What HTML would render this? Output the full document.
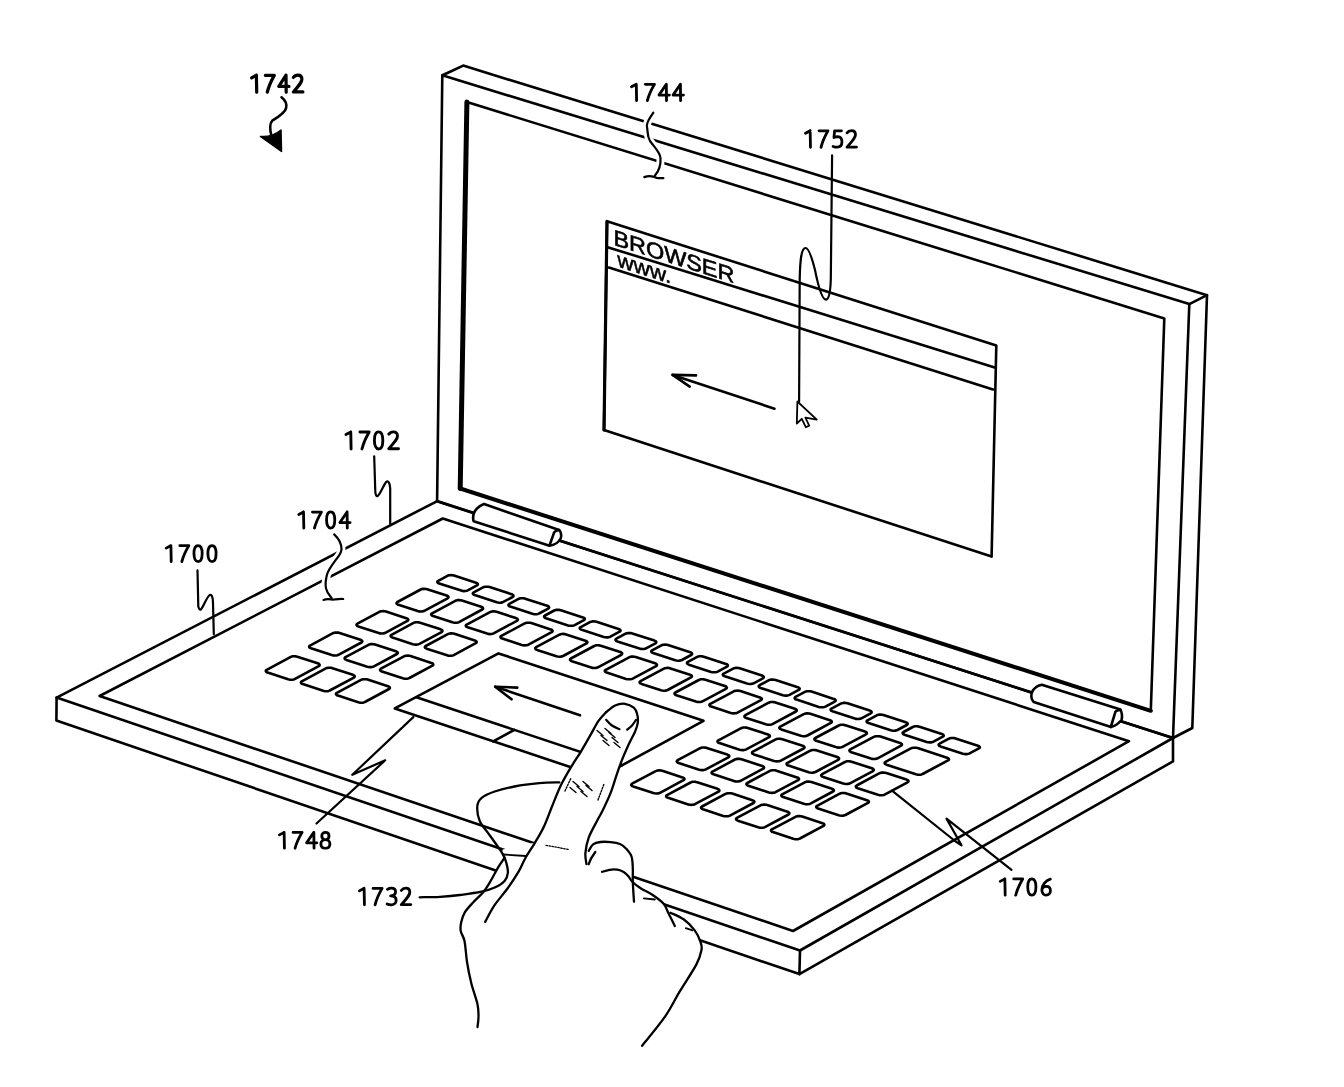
<!DOCTYPE html>
<html><head><meta charset="utf-8"><style>
html,body{margin:0;padding:0;background:#fff;}
body{width:1344px;height:1087px;overflow:hidden;}
svg{display:block;filter:grayscale(1);}
.t{font-family:"Liberation Sans",sans-serif;fill:#000;}
</style></head><body>
<svg width="1344" height="1087" viewBox="0 0 1344 1087">
<g fill="none" stroke="#000" stroke-linejoin="round" stroke-linecap="round">
<polyline points="436.8,501.3 56.6,697.6 800,950.5 1173,738" stroke-width="2.6" />
<polyline points="56.6,697.6 56.4,720.6 799.4,974.1 800,950.5" stroke-width="2.6" />
<polyline points="799.4,974.1 1173,761.4 1173,738" stroke-width="2.6" />
<polygon points="99.6,696 793,931 1129,741.2 442.8,518.5" stroke-width="2.6" fill="none" />
<polyline points="436.8,501.3 1173,738" stroke-width="2.6" />
<polygon points="461.2,590.6 462.5,591 463.9,591.1 465.4,591 466.7,590.8 467.7,590.4 477,585.4 477.7,584.9 477.9,584.3 477.7,583.7 477,583.1 476,582.7 454,575.5 452.7,575.2 451.2,575.1 449.8,575.2 448.4,575.4 447.4,575.8 438.2,580.8 437.5,581.3 437.3,581.9 437.5,582.5 438.1,583 439.2,583.5" stroke-width="2.6" fill="none" />
<polygon points="496.8,602.2 498.1,602.5 499.5,602.7 501,602.6 502.3,602.4 503.3,601.9 512.6,597 513.3,596.5 513.5,595.9 513.3,595.3 512.6,594.7 511.6,594.2 489.6,587.1 488.2,586.8 486.8,586.7 485.3,586.7 484,587 483,587.4 473.7,592.3 473.1,592.9 472.8,593.4 473,594 473.7,594.6 474.7,595.1" stroke-width="2.6" fill="none" />
<polygon points="532.4,613.8 533.7,614.1 535.2,614.2 536.6,614.2 537.9,613.9 539,613.5 548.2,608.6 548.9,608 549.1,607.4 548.9,606.8 548.3,606.3 547.2,605.8 525.2,598.7 523.9,598.3 522.4,598.2 520.9,598.3 519.6,598.5 518.6,598.9 509.3,603.9 508.7,604.4 508.4,605 508.6,605.6 509.3,606.2 510.3,606.6" stroke-width="2.6" fill="none" />
<polygon points="568.1,625.4 569.4,625.7 570.8,625.8 572.3,625.8 573.6,625.5 574.7,625.1 583.9,620.1 584.6,619.6 584.8,619 584.6,618.4 583.9,617.9 582.9,617.4 560.8,610.2 559.5,609.9 558.1,609.8 556.6,609.9 555.3,610.1 554.2,610.5 545,615.5 544.3,616 544.1,616.6 544.3,617.2 545,617.8 546,618.2" stroke-width="2.6" fill="none" />
<polygon points="603.8,637 605.1,637.3 606.5,637.4 608,637.4 609.3,637.1 610.4,636.7 619.6,631.7 620.3,631.2 620.6,630.6 620.3,630 619.7,629.5 618.6,629 596.5,621.8 595.2,621.5 593.8,621.4 592.3,621.4 591,621.7 589.9,622.1 580.7,627.1 580,627.6 579.7,628.2 580,628.8 580.6,629.4 581.7,629.8" stroke-width="2.6" fill="none" />
<polygon points="639.5,648.6 640.8,648.9 642.3,649 643.7,649 645.1,648.7 646.1,648.3 655.4,643.4 656.1,642.8 656.3,642.2 656.1,641.6 655.4,641.1 654.4,640.6 632.3,633.4 630.9,633.1 629.5,633 628,633.1 626.7,633.3 625.6,633.7 616.4,638.7 615.7,639.2 615.5,639.8 615.7,640.4 616.3,641 617.4,641.4" stroke-width="2.6" fill="none" />
<polygon points="675.3,660.2 676.6,660.5 678.1,660.7 679.5,660.6 680.9,660.4 681.9,660 691.2,655 691.9,654.5 692.1,653.9 691.9,653.3 691.2,652.7 690.2,652.2 668,645.1 666.7,644.7 665.2,644.6 663.8,644.7 662.5,644.9 661.4,645.3 652.1,650.3 651.5,650.8 651.2,651.4 651.4,652 652.1,652.6 653.1,653" stroke-width="2.6" fill="none" />
<polygon points="711.1,671.9 712.4,672.2 713.9,672.3 715.4,672.3 716.7,672 717.7,671.6 727,666.6 727.7,666.1 727.9,665.5 727.7,664.9 727,664.3 726,663.9 703.8,656.7 702.5,656.4 701.1,656.2 699.6,656.3 698.3,656.5 697.2,656.9 687.9,661.9 687.2,662.4 687,663 687.2,663.6 687.9,664.2 688.9,664.7" stroke-width="2.6" fill="none" />
<polygon points="747,683.5 748.3,683.8 749.7,684 751.2,683.9 752.5,683.7 753.6,683.3 762.9,678.3 763.6,677.8 763.8,677.2 763.6,676.5 762.9,676 761.9,675.5 739.7,668.3 738.4,668 736.9,667.9 735.4,667.9 734.1,668.2 733.1,668.6 723.8,673.6 723.1,674.1 722.8,674.7 723.1,675.3 723.7,675.9 724.8,676.3" stroke-width="2.6" fill="none" />
<polygon points="782.9,695.2 784.2,695.5 785.6,695.6 787.1,695.6 788.4,695.3 789.5,694.9 798.8,689.9 799.5,689.4 799.7,688.8 799.5,688.2 798.8,687.7 797.8,687.2 775.6,680 774.3,679.7 772.8,679.5 771.3,679.6 770,679.8 768.9,680.2 759.6,685.2 758.9,685.7 758.7,686.3 758.9,686.9 759.6,687.5 760.6,688" stroke-width="2.6" fill="none" />
<polygon points="818.8,706.9 820.1,707.2 821.6,707.3 823.1,707.2 824.4,707 825.4,706.6 834.8,701.6 835.4,701.1 835.7,700.5 835.5,699.9 834.8,699.3 833.7,698.9 811.5,691.6 810.2,691.3 808.7,691.2 807.2,691.3 805.9,691.5 804.9,691.9 795.5,696.9 794.9,697.4 794.6,698 794.8,698.6 795.5,699.2 796.6,699.6" stroke-width="2.6" fill="none" />
<polygon points="854.8,718.5 856.1,718.9 857.6,719 859,718.9 860.4,718.7 861.4,718.3 870.7,713.3 871.4,712.8 871.7,712.2 871.4,711.6 870.8,711 869.7,710.6 847.5,703.3 846.1,703 844.7,702.9 843.2,702.9 841.9,703.2 840.8,703.6 831.5,708.6 830.8,709.1 830.6,709.7 830.8,710.3 831.5,710.9 832.5,711.3" stroke-width="2.6" fill="none" />
<polygon points="890.8,730.3 892.1,730.6 893.6,730.7 895,730.6 896.4,730.4 897.4,730 906.8,725 907.5,724.5 907.7,723.9 907.5,723.3 906.8,722.7 905.7,722.3 883.5,715 882.1,714.7 880.7,714.6 879.2,714.6 877.9,714.9 876.8,715.3 867.5,720.3 866.8,720.8 866.6,721.4 866.8,722 867.4,722.6 868.5,723" stroke-width="2.6" fill="none" />
<polygon points="926.8,742 928.2,742.3 929.6,742.4 931.1,742.4 932.4,742.1 933.5,741.7 942.8,736.7 943.5,736.2 943.8,735.6 943.5,735 942.9,734.4 941.8,734 919.5,726.7 918.2,726.4 916.7,726.3 915.2,726.3 913.9,726.6 912.8,727 903.5,732 902.8,732.5 902.6,733.1 902.8,733.7 903.5,734.3 904.5,734.7" stroke-width="2.6" fill="none" />
<polygon points="962.9,753.7 964.2,754 965.7,754.1 967.2,754.1 968.5,753.8 969.6,753.4 978.9,748.4 979.6,747.9 979.9,747.3 979.6,746.7 979,746.2 977.9,745.7 955.6,738.4 954.3,738.1 952.8,738 951.3,738 950,738.3 948.9,738.7 939.6,743.7 938.9,744.2 938.6,744.8 938.9,745.4 939.5,746 940.6,746.4" stroke-width="2.6" fill="none" />
<polygon points="417.7,611.1 419,611.4 420.5,611.5 422,611.4 423.3,611.2 424.3,610.8 447.6,598.3 448.2,597.8 448.5,597.2 448.3,596.6 447.6,596 446.6,595.5 427.2,589.3 425.9,589 424.5,588.8 423,588.9 421.7,589.1 420.7,589.5 397.4,602 396.8,602.6 396.5,603.2 396.7,603.8 397.4,604.3 398.4,604.8" stroke-width="2.6" fill="none" />
<polygon points="452.4,622.3 453.7,622.6 455.1,622.8 456.6,622.7 457.9,622.5 459,622.1 482.2,609.5 482.9,609 483.1,608.4 482.9,607.8 482.3,607.3 481.2,606.8 461.9,600.5 460.6,600.2 459.1,600.1 457.7,600.1 456.4,600.4 455.3,600.8 432.1,613.3 431.4,613.8 431.1,614.4 431.4,615 432,615.6 433.1,616" stroke-width="2.6" fill="none" />
<polygon points="487.1,633.6 488.4,633.9 489.8,634.1 491.3,634 492.6,633.8 493.6,633.4 516.9,620.8 517.6,620.3 517.9,619.7 517.6,619.1 517,618.6 515.9,618.1 496.6,611.8 495.3,611.5 493.8,611.4 492.4,611.4 491,611.7 490,612.1 466.7,624.6 466,625.1 465.8,625.7 466,626.3 466.7,626.9 467.7,627.3" stroke-width="2.6" fill="none" />
<polygon points="521.8,644.9 523.1,645.2 524.5,645.4 526,645.3 527.3,645.1 528.4,644.7 551.7,632.1 552.4,631.6 552.6,631 552.4,630.4 551.7,629.8 550.7,629.4 531.3,623.1 530,622.8 528.5,622.7 527.1,622.7 525.8,623 524.7,623.4 501.4,635.9 500.7,636.4 500.5,637 500.7,637.6 501.4,638.2 502.4,638.6" stroke-width="2.6" fill="none" />
<polygon points="556.5,656.2 557.8,656.5 559.3,656.7 560.8,656.6 562.1,656.4 563.1,656 586.5,643.4 587.1,642.9 587.4,642.3 587.2,641.7 586.5,641.2 585.4,640.7 566.1,634.4 564.7,634.1 563.3,633.9 561.8,634 560.5,634.3 559.5,634.7 536.1,647.2 535.5,647.7 535.2,648.3 535.4,648.9 536.1,649.5 537.1,649.9" stroke-width="2.6" fill="none" />
<polygon points="591.3,667.5 592.6,667.9 594.1,668 595.5,667.9 596.9,667.7 597.9,667.3 621.3,654.8 622,654.2 622.2,653.6 622,653 621.3,652.5 620.3,652 600.8,645.7 599.5,645.4 598.1,645.3 596.6,645.3 595.3,645.6 594.2,646 570.9,658.5 570.2,659 570,659.6 570.2,660.2 570.9,660.8 571.9,661.2" stroke-width="2.6" fill="none" />
<polygon points="626.1,678.9 627.5,679.2 628.9,679.3 630.4,679.3 631.7,679 632.7,678.6 656.1,666.1 656.8,665.6 657,665 656.8,664.4 656.2,663.8 655.1,663.3 635.7,657 634.4,656.7 632.9,656.6 631.4,656.6 630.1,656.9 629.1,657.3 605.7,669.8 605,670.3 604.8,670.9 605,671.5 605.7,672.1 606.7,672.6" stroke-width="2.6" fill="none" />
<polygon points="661,690.2 662.3,690.5 663.8,690.7 665.2,690.6 666.6,690.4 667.6,690 691,677.4 691.7,676.9 691.9,676.3 691.7,675.7 691,675.1 690,674.7 670.5,668.4 669.2,668 667.8,667.9 666.3,668 665,668.2 663.9,668.6 640.5,681.2 639.9,681.7 639.6,682.3 639.8,682.9 640.5,683.4 641.6,683.9" stroke-width="2.6" fill="none" />
<polygon points="695.9,701.6 697.2,701.9 698.7,702 700.1,702 701.5,701.7 702.5,701.3 725.9,688.8 726.6,688.3 726.9,687.7 726.6,687.1 726,686.5 724.9,686 705.4,679.7 704.1,679.4 702.7,679.3 701.2,679.3 699.9,679.6 698.8,680 675.4,692.5 674.7,693 674.5,693.6 674.7,694.2 675.4,694.8 676.4,695.3" stroke-width="2.6" fill="none" />
<polygon points="730.8,713 732.1,713.3 733.6,713.4 735.1,713.3 736.4,713.1 737.5,712.7 760.9,700.1 761.6,699.6 761.8,699 761.6,698.4 760.9,697.9 759.9,697.4 740.4,691.1 739.1,690.8 737.6,690.6 736.1,690.7 734.8,690.9 733.8,691.3 710.3,703.9 709.6,704.4 709.4,705 709.6,705.6 710.3,706.2 711.3,706.6" stroke-width="2.6" fill="none" />
<polygon points="765.8,724.3 767.1,724.6 768.6,724.8 770,724.7 771.4,724.5 772.4,724.1 795.9,711.5 796.6,711 796.8,710.4 796.6,709.8 795.9,709.2 794.9,708.8 775.4,702.4 774,702.1 772.6,702 771.1,702 769.8,702.3 768.7,702.7 745.3,715.2 744.6,715.8 744.4,716.4 744.6,717 745.2,717.5 746.3,718" stroke-width="2.6" fill="none" />
<polygon points="800.8,735.7 802.1,736 803.6,736.2 805.1,736.1 806.4,735.9 807.4,735.5 830.9,722.9 831.6,722.4 831.8,721.8 831.6,721.2 830.9,720.6 829.9,720.2 810.4,713.8 809,713.5 807.6,713.4 806.1,713.4 804.8,713.7 803.7,714.1 780.3,726.6 779.6,727.2 779.3,727.7 779.6,728.4 780.2,728.9 781.3,729.4" stroke-width="2.6" fill="none" />
<polygon points="835.8,747.1 837.2,747.4 838.6,747.6 840.1,747.5 841.4,747.3 842.5,746.9 866,734.3 866.7,733.8 866.9,733.2 866.7,732.6 866,732 865,731.6 845.4,725.2 844.1,724.9 842.6,724.8 841.1,724.8 839.8,725.1 838.8,725.5 815.3,738 814.6,738.5 814.4,739.1 814.6,739.8 815.2,740.3 816.3,740.8" stroke-width="2.6" fill="none" />
<polygon points="870.9,758.6 872.2,758.9 873.7,759 875.2,758.9 876.5,758.7 877.6,758.3 901.1,745.7 901.8,745.2 902,744.6 901.8,744 901.1,743.4 900.1,743 880.5,736.6 879.2,736.3 877.7,736.2 876.2,736.2 874.9,736.5 873.8,736.9 850.3,749.4 849.6,750 849.4,750.6 849.6,751.2 850.3,751.7 851.4,752.2" stroke-width="2.6" fill="none" />
<polygon points="915.9,774.3 917.2,774.6 918.7,774.7 920.2,774.7 921.5,774.4 922.6,774 948,760.4 948.7,759.9 949,759.3 948.7,758.7 948.1,758.1 947,757.7 917.6,748.1 916.2,747.8 914.8,747.7 913.3,747.7 912,748 910.9,748.4 885.5,761.9 884.8,762.5 884.6,763.1 884.8,763.7 885.5,764.2 886.5,764.7" stroke-width="2.6" fill="none" />
<polygon points="378.7,633 380,633.4 381.5,633.5 382.9,633.4 384.3,633.2 385.3,632.8 407.4,620.9 408,620.4 408.3,619.8 408,619.2 407.4,618.6 406.3,618.2 386,611.5 384.7,611.2 383.2,611.1 381.8,611.2 380.4,611.4 379.4,611.8 357.4,623.7 356.7,624.2 356.5,624.8 356.7,625.4 357.3,626 358.4,626.4" stroke-width="2.6" fill="none" />
<polygon points="412.9,644.2 414.2,644.5 415.7,644.6 417.1,644.6 418.4,644.3 419.5,643.9 441.6,632.1 442.2,631.5 442.5,630.9 442.3,630.3 441.6,629.8 440.6,629.3 420.2,622.7 418.9,622.4 417.4,622.2 415.9,622.3 414.6,622.5 413.6,622.9 391.5,634.8 390.9,635.3 390.6,635.9 390.8,636.5 391.5,637.1 392.5,637.5" stroke-width="2.6" fill="none" />
<polygon points="447.1,655.3 448.4,655.7 449.9,655.8 451.4,655.7 452.7,655.5 453.7,655.1 475.8,643.2 476.5,642.7 476.7,642.1 476.5,641.5 475.8,640.9 474.8,640.5 454.4,633.8 453.1,633.5 451.6,633.4 450.2,633.4 448.9,633.7 447.8,634.1 425.7,646 425.1,646.5 424.8,647.1 425,647.7 425.7,648.2 426.7,648.7" stroke-width="2.6" fill="none" />
<polygon points="331.8,655.1 333.1,655.4 334.6,655.5 336,655.5 337.4,655.2 338.4,654.8 361.4,642.5 362.1,641.9 362.3,641.3 362.1,640.7 361.4,640.2 360.4,639.7 339.6,632.9 338.3,632.6 336.8,632.5 335.4,632.6 334.1,632.8 333,633.2 310,645.6 309.4,646.1 309.1,646.7 309.3,647.3 310,647.9 311,648.3" stroke-width="2.6" fill="none" />
<polygon points="367.3,666.7 368.6,667 370.1,667.1 371.5,667.1 372.8,666.8 373.9,666.4 396.9,654 397.6,653.5 397.8,652.9 397.6,652.3 396.9,651.8 395.9,651.3 375,644.5 373.7,644.2 372.3,644.1 370.8,644.1 369.5,644.4 368.5,644.8 345.5,657.1 344.8,657.7 344.6,658.3 344.8,658.9 345.4,659.4 346.5,659.9" stroke-width="2.6" fill="none" />
<polygon points="402.8,678.3 404.1,678.6 405.6,678.7 407,678.7 408.3,678.4 409.4,678 432.4,665.6 433.1,665.1 433.3,664.5 433.1,663.9 432.4,663.3 431.4,662.9 410.5,656.1 409.2,655.8 407.8,655.6 406.3,655.7 405,655.9 404,656.3 380.9,668.7 380.3,669.3 380,669.8 380.3,670.5 380.9,671 382,671.5" stroke-width="2.6" fill="none" />
<polygon points="288.1,679.3 289.4,679.6 290.8,679.8 292.3,679.7 293.6,679.5 294.6,679.1 318.7,666.1 319.4,665.6 319.7,665 319.4,664.4 318.8,663.8 317.7,663.3 297.3,656.7 296,656.4 294.6,656.2 293.1,656.3 291.8,656.5 290.8,656.9 266.7,669.9 266,670.4 265.8,671 266,671.6 266.7,672.2 267.7,672.6" stroke-width="2.6" fill="none" />
<polygon points="323.2,690.8 324.5,691.1 325.9,691.2 327.4,691.2 328.7,690.9 329.7,690.5 353.9,677.6 354.5,677 354.8,676.4 354.6,675.8 353.9,675.3 352.9,674.8 332.5,668.2 331.1,667.8 329.7,667.7 328.2,667.8 326.9,668 325.9,668.4 301.8,681.4 301.1,681.9 300.9,682.5 301.1,683.1 301.8,683.7 302.8,684.1" stroke-width="2.6" fill="none" />
<polygon points="358.3,702.3 359.6,702.6 361.1,702.7 362.5,702.7 363.8,702.4 364.9,702 389,689 389.7,688.5 389.9,687.9 389.7,687.3 389.1,686.8 388,686.3 367.6,679.6 366.3,679.3 364.8,679.2 363.4,679.3 362.1,679.5 361,679.9 336.9,692.9 336.2,693.4 336,694 336.2,694.6 336.9,695.2 337.9,695.6" stroke-width="2.6" fill="none" />
<polygon points="739.6,749.7 740.9,750 742.4,750.1 743.8,750.1 745.2,749.8 746.2,749.4 769,737.2 769.7,736.7 769.9,736.1 769.7,735.5 769,734.9 768,734.5 747.8,727.9 746.5,727.6 745,727.5 743.6,727.5 742.2,727.8 741.2,728.2 718.4,740.4 717.7,740.9 717.5,741.5 717.7,742.1 718.4,742.7 719.4,743.1" stroke-width="2.6" fill="none" />
<polygon points="774.1,761 775.4,761.3 776.9,761.4 778.4,761.3 779.7,761.1 780.8,760.7 803.6,748.5 804.3,748 804.5,747.4 804.3,746.8 803.6,746.2 802.6,745.7 782.4,739.2 781.1,738.9 779.6,738.7 778.1,738.8 776.8,739 775.7,739.4 752.9,751.6 752.2,752.2 752,752.7 752.2,753.4 752.9,753.9 753.9,754.4" stroke-width="2.6" fill="none" />
<polygon points="808.7,772.2 810,772.5 811.5,772.7 813,772.6 814.3,772.4 815.4,772 838.2,759.8 838.9,759.2 839.1,758.6 838.9,758 838.2,757.5 837.2,757 817,750.4 815.6,750.1 814.2,750 812.7,750 811.4,750.3 810.3,750.7 787.5,762.9 786.8,763.4 786.6,764 786.8,764.6 787.5,765.2 788.5,765.6" stroke-width="2.6" fill="none" />
<polygon points="843.3,783.5 844.7,783.8 846.1,784 847.6,783.9 848.9,783.7 850,783.3 872.9,771.1 873.5,770.5 873.8,769.9 873.5,769.3 872.9,768.8 871.8,768.3 851.6,761.7 850.3,761.4 848.8,761.3 847.3,761.3 846,761.6 844.9,762 822.1,774.2 821.4,774.7 821.2,775.3 821.4,775.9 822.1,776.5 823.1,776.9" stroke-width="2.6" fill="none" />
<polygon points="878,794.8 879.3,795.1 880.8,795.3 882.3,795.2 883.6,795 884.6,794.6 907.5,782.3 908.2,781.8 908.5,781.2 908.2,780.6 907.6,780.1 906.5,779.6 886.3,773 884.9,772.7 883.5,772.5 882,772.6 880.7,772.8 879.6,773.2 856.7,785.5 856,786 855.8,786.6 856,787.2 856.7,787.8 857.7,788.2" stroke-width="2.6" fill="none" />
<polygon points="699.2,769.7 700.5,770 702,770.1 703.4,770.1 704.7,769.8 705.8,769.4 728.3,757.4 729,756.8 729.3,756.2 729,755.6 728.4,755.1 727.3,754.6 706.8,747.9 705.5,747.6 704,747.5 702.6,747.5 701.2,747.8 700.2,748.2 677.7,760.2 677,760.8 676.7,761.3 677,762 677.6,762.5 678.7,763" stroke-width="2.6" fill="none" />
<polygon points="734,781 735.3,781.4 736.8,781.5 738.3,781.4 739.6,781.2 740.6,780.8 763.2,768.7 763.9,768.2 764.1,767.6 763.9,767 763.2,766.4 762.2,766 741.6,759.3 740.3,759 738.9,758.8 737.4,758.9 736.1,759.1 735,759.5 712.5,771.6 711.8,772.1 711.6,772.7 711.8,773.3 712.4,773.9 713.5,774.3" stroke-width="2.6" fill="none" />
<polygon points="768.9,792.4 770.2,792.7 771.7,792.9 773.1,792.8 774.5,792.6 775.5,792.2 798.1,780.1 798.8,779.6 799,779 798.8,778.4 798.1,777.8 797.1,777.4 776.5,770.7 775.2,770.3 773.7,770.2 772.2,770.3 770.9,770.5 769.9,770.9 747.3,783 746.6,783.5 746.4,784.1 746.6,784.7 747.3,785.3 748.3,785.7" stroke-width="2.6" fill="none" />
<polygon points="803.8,803.8 805.1,804.1 806.6,804.3 808,804.2 809.4,804 810.4,803.6 833,791.5 833.7,791 833.9,790.4 833.7,789.8 833,789.2 832,788.8 811.4,782 810.1,781.7 808.6,781.6 807.2,781.6 805.8,781.9 804.8,782.3 782.2,794.4 781.5,794.9 781.3,795.5 781.5,796.1 782.2,796.6 783.2,797.1" stroke-width="2.6" fill="none" />
<polygon points="838.7,815.2 840,815.5 841.5,815.7 843,815.6 844.3,815.4 845.4,815 868,802.9 868.7,802.4 868.9,801.8 868.7,801.2 868,800.6 866.9,800.2 846.4,793.4 845,793.1 843.6,793 842.1,793 840.8,793.3 839.7,793.7 817.1,805.8 816.4,806.3 816.2,806.9 816.4,807.5 817.1,808 818.1,808.5" stroke-width="2.6" fill="none" />
<polygon points="653.4,793 654.7,793.3 656.2,793.5 657.6,793.4 658.9,793.2 660,792.8 683.5,780.2 684.2,779.7 684.5,779.1 684.2,778.5 683.6,777.9 682.5,777.4 662.3,770.8 661,770.5 659.5,770.4 658.1,770.4 656.7,770.7 655.7,771.1 632.1,783.7 631.5,784.2 631.2,784.8 631.5,785.4 632.1,786 633.2,786.4" stroke-width="2.6" fill="none" />
<polygon points="688.3,804.4 689.6,804.8 691.1,804.9 692.5,804.8 693.9,804.6 694.9,804.2 718.5,791.6 719.2,791.1 719.4,790.5 719.2,789.9 718.5,789.3 717.5,788.8 697.2,782.2 695.9,781.9 694.4,781.8 693,781.8 691.6,782.1 690.6,782.5 667,795.1 666.4,795.6 666.1,796.2 666.3,796.8 667,797.4 668.1,797.8" stroke-width="2.6" fill="none" />
<polygon points="723.2,815.9 724.6,816.2 726,816.3 727.5,816.3 728.8,816 729.9,815.6 753.5,803 754.1,802.5 754.4,801.9 754.2,801.3 753.5,800.7 752.4,800.3 732.2,793.6 730.8,793.3 729.4,793.2 727.9,793.3 726.6,793.5 725.5,793.9 702,806.5 701.3,807 701,807.6 701.3,808.2 701.9,808.8 703,809.2" stroke-width="2.6" fill="none" />
<polygon points="758.2,827.3 759.5,827.6 761,827.8 762.5,827.7 763.8,827.5 764.9,827.1 788.5,814.5 789.2,813.9 789.4,813.3 789.2,812.7 788.5,812.2 787.5,811.7 767.2,805.1 765.8,804.8 764.4,804.6 762.9,804.7 761.6,804.9 760.5,805.3 736.9,817.9 736.2,818.5 736,819.1 736.2,819.7 736.9,820.2 737.9,820.7" stroke-width="2.6" fill="none" />
<polygon points="793.2,838.8 794.6,839.1 796,839.2 797.5,839.2 798.8,838.9 799.9,838.5 823.5,825.9 824.2,825.4 824.4,824.8 824.2,824.2 823.5,823.6 822.5,823.2 802.2,816.5 800.9,816.2 799.4,816.1 797.9,816.1 796.6,816.4 795.5,816.8 771.9,829.4 771.2,829.9 771,830.5 771.2,831.1 771.9,831.7 772.9,832.1" stroke-width="2.6" fill="none" />
<polygon points="394.8,708.4 600.4,777.1 703.5,720.8 498.5,653.4" stroke-width="2.6" fill="none" />
<polyline points="417.2,697.5 621.6,765.6" stroke-width="2.6" />
<polyline points="493.2,741.3 514.4,729.9" stroke-width="2.6" />
<polyline points="580,715.3 495.2,686.7" stroke-width="2.6" />
<polyline points="517.3,687.6 495.2,686.7 511.6,699.3" stroke-width="2.6" />
<polyline points="442.3,75.3 449,72.2 463.2,65.6 1207,295.2 1192.3,728 1173,738" stroke-width="2.6" />
<polygon points="442.3,75.3 1189.3,304.1 1173,738 437.1,501.1" stroke-width="2.6" fill="none" />
<polyline points="1189.3,304.1 1207,295.2" stroke-width="2.6" />
<polyline points="460.2,488.5 466.9,102 1164.3,318.4 1150.8,710.8" stroke-width="2.6" />
<polyline points="466.9,102 460.2,488.5" stroke-width="5" />
<polyline points="460.2,488.5 1150.8,710.8" stroke-width="4" />
<path d="M484,504 L559.1,530.1 C561.5,532 561.5,537 560.6,538.5 C558.5,542.5 555,545 549.5,545.7 L473.6,521.2 C472.3,516 474,511.5 477,508.5 C479,506.5 481.5,505 484,504 Z" stroke-width="2.6" fill="#fff" />
<path d="M559.1,530.1 C555.5,531 554,532 553.9,533.1 L549.5,545.5" stroke-width="2.6" fill="none" />
<path d="M1041.8,684.8 L1120.4,709.6 C1122,712 1122.5,717 1121.5,720 C1118,724 1114,726.5 1111,727 L1033.7,702 C1030.8,699.5 1030.6,694 1032.8,690.5 C1035,687.5 1038,685.5 1041.8,684.8 Z" stroke-width="2.6" fill="#fff" />
<path d="M1120.4,709.8 C1117.5,710.5 1115.8,711 1115.4,711.8 L1110.8,727" stroke-width="2.6" fill="none" />
<polygon points="607,221.3 996.3,345.6 991.6,556.6 604,430" stroke-width="2.6" fill="none" />
<polyline points="607,221.3 604,430" stroke-width="3.2" />
<polyline points="608.4,247.4 994.7,367.5" stroke-width="2.6" />
<polyline points="608.9,267.5 993,389.4" stroke-width="2.6" />
<polyline points="774.5,408.7 672.6,374.9" stroke-width="2.6" />
<polyline points="696,375.4 672.6,374.9 689.7,386.6" stroke-width="2.6" />
<g transform="translate(613.4,244.8) skewY(17.69)"><text x="0" y="0" font-size="22" textLength="121" lengthAdjust="spacingAndGlyphs" class="t" stroke="#000" stroke-width="0.6">BROWSER</text></g>
<g transform="translate(617.2,266.6) skewY(17.69)"><text x="0" y="0" font-size="21.5" textLength="54" lengthAdjust="spacingAndGlyphs" class="t" stroke="#000" stroke-width="0.5">www.</text></g>
<path d="M797.4,401.5 L796.8,423.5 L801.8,418.8 L805.8,427.2 L809.2,425.6 L805.4,417.6 L816.8,419.6 Z" stroke-width="1.8" fill="#fff" />
<path d="M615.1,705.5 L625,703.8 L633.8,707.7 L637.2,714.3 L637.7,723.1 L634.9,732 L628.3,745.2 L621.7,760.7 L616.2,776.1 L610.7,792.7 L602.9,810 L597.5,820 L588.7,837.7 L588.7,837.7 L588.7,850.9 L593.1,844.3 L600.5,842 L610.8,842.1 L620,844 L626.2,848.7 L631.5,856.5 L632.8,868 L632.8,881.8 L634,886 L652.7,895 L663.8,903.9 L668.2,912.7 L670.4,912.7 L683.6,919.3 L694.7,930.4 L700.4,941.7 L701.5,950 L696.3,964.6 L679.6,991.7 L665,1016.7 L642.1,1045.8 L560,1040 L477.5,1027 L478.5,1016.7 L477.5,1004.2 L471.3,983.3 L467.1,962.5 L464.5,941 L460.8,931.3 L461.2,922.3 L464.8,912.4 L473.1,902.4 L483,892.5 L489.7,882.6 L498,867.7 L504.6,857.7 L502.5,849.5 L534.9,842.8 L544.1,826.2 L551.8,807 L561,785 L570.9,767.3 L580.8,751.8 L589.7,736.4 L598.5,720.9 L606.2,712.1 Z" stroke-width="0" fill="#fff" stroke="none"/>
<path d="M606.2,712.1 C607.7,711 612,706.9 615.1,705.5 C618.2,704.1 621.9,703.4 625,703.8 C628.1,704.2 631.8,706 633.8,707.7 C635.8,709.5 636.6,711.7 637.2,714.3 C637.9,716.9 638.1,720.1 637.7,723.1 C637.3,726.1 636.5,728.3 634.9,732 C633.3,735.7 630.5,740.4 628.3,745.2 C626.1,750 623.7,755.6 621.7,760.7 C619.7,765.9 618,770.8 616.2,776.1 C614.4,781.4 612.9,787.1 610.7,792.7 C608.5,798.4 605.1,805.5 602.9,810 C600.7,814.5 599.9,815.4 597.5,820 C595.1,824.6 590.7,832.2 588.7,837.7 C586.7,843.2 585.8,848.7 585.4,853.1 C585,857.5 586.3,862.4 586.5,864.2" stroke-width="2.3" fill="none" />
<path d="M606.2,712.1 C604.9,713.6 601.2,716.9 598.5,720.9 C595.8,724.9 592.7,731.2 589.7,736.4 C586.8,741.5 583.9,746.6 580.8,751.8 C577.7,756.9 574.2,761.8 570.9,767.3 C567.6,772.8 564.2,778.4 561,785 C557.8,791.6 554.6,800.1 551.8,807 C549,813.9 546.9,820.2 544.1,826.2 C541.3,832.2 538,837.6 534.9,842.8 C531.8,848 528.5,852.6 525.7,857.5 C522.9,862.4 521.4,867 518.3,872.2 C515.2,877.4 511.3,883.3 507.3,888.8 C503.3,894.3 498.1,899.9 494.4,905.4 C490.7,910.9 486.7,919.1 485.2,921.9" stroke-width="2.3" fill="none" />
<path d="M559.3,782.4 C556,782.5 546.9,782.5 539.4,783.2 C531.9,783.9 522,785.1 514.5,786.5 C507.1,787.9 500.2,789.6 494.7,791.5 C489.2,793.4 484.3,795.6 481.4,798.1 C478.5,800.6 477.6,802.5 477.3,806.4 C477,810.3 478,816.9 479.8,821.3 C481.6,825.7 485.2,829 488,832.9 C490.8,836.8 493.8,840.9 496.3,844.5 C498.8,848.1 501.2,851.4 502.9,854.4 C504.6,857.4 505.5,859.7 506.3,862.7 C507.1,865.7 508.2,869.6 507.9,872.6 C507.6,875.6 506.8,878.4 504.6,880.9 C502.4,883.4 498.6,885.7 494.7,887.5 C490.8,889.3 487.2,890.5 481.4,891.7 C475.6,893 466.8,894.1 459.9,895 C453,895.9 446.7,896.4 440,896.8 C433.3,897.2 423,897.2 419.6,897.3" stroke-width="2.3" fill="none" />
<path d="M504.6,857.7 C503.5,859.4 500.5,863.6 498,867.7 C495.5,871.9 492.2,878.5 489.7,882.6 C487.2,886.7 485.8,889.2 483,892.5 C480.2,895.8 476.1,899.1 473.1,902.4 C470.1,905.7 466.8,909.1 464.8,912.4 C462.8,915.7 461.9,919.1 461.2,922.3 C460.5,925.4 460.2,928.2 460.8,931.3 C461.4,934.4 463.4,935.8 464.5,941 C465.6,946.2 466,955.5 467.1,962.5 C468.2,969.5 469.6,976.3 471.3,983.3 C473,990.2 476.3,998.6 477.5,1004.2 C478.7,1009.8 478.5,1012.9 478.5,1016.7 C478.5,1020.5 477.7,1025.3 477.5,1027" stroke-width="2.3" fill="none" />
<path d="M588.7,850.9 C589.4,849.8 591.1,845.8 593.1,844.3 C595.1,842.8 597.5,842.4 600.5,842 C603.5,841.6 607.5,841.8 610.8,842.1 C614,842.4 617.4,842.9 620,844 C622.6,845.1 624.3,846.6 626.2,848.7 C628.1,850.8 630.4,853.3 631.5,856.5 C632.6,859.7 632.6,863.8 632.8,868 C633,872.2 632.6,876.2 632.8,881.8 C633,887.4 633.8,898.4 634,901.7" stroke-width="2.3" fill="none" />
<path d="M602,871.9 C603.2,871.5 606.9,870.2 609.5,869.8 C612.1,869.4 615,869.3 617.4,869.7 C619.8,870.1 622.2,871.2 624,872.3 C625.8,873.4 627,874.7 628.4,876.3 C629.8,877.9 630.4,880 632.5,882 C634.6,884 637.6,886.3 641,888.5 C644.4,890.7 648.9,892.4 652.7,895 C656.5,897.6 661.2,900.9 663.8,903.9 C666.4,906.9 666.4,909 668.2,912.7 C670,916.4 673.7,923.8 674.8,926" stroke-width="2.3" fill="none" />
<path d="M670.4,912.7 C672.6,913.8 679.5,916.3 683.6,919.3 C687.7,922.2 691.9,926.7 694.7,930.4 C697.5,934.1 699.3,938.4 700.4,941.7 C701.5,945 702.2,946.2 701.5,950 C700.8,953.8 699.9,957.6 696.3,964.6 C692.6,971.6 684.8,983 679.6,991.7 C674.4,1000.4 671.2,1007.7 665,1016.7 C658.8,1025.7 645.9,1041 642.1,1045.8" stroke-width="2.3" fill="none" />
<path d="M588.7,864.2 C590,860 593,855 595.3,852" stroke-width="2.3" fill="none" />
<path d="M643.9,898.4 L654.9,899.5" stroke-width="1.8" fill="none" />
<path d="M685.8,928.2 L692.5,930.4" stroke-width="1.8" fill="none" />
<path d="M606.2,719.8 C607.2,720.8 609.8,723.9 612,725.5 C614.2,727.1 618.2,728.6 619.5,729.2" stroke-width="2.2" fill="none" />
<path d="M627.2,729.7 C628,729 630.5,727.1 632,725.5 C633.5,723.9 635.3,720.8 636,719.8" stroke-width="2.2" fill="none" />
<polyline points="597,730.5 603,735.5" stroke-width="1.4" />
<polyline points="601,735.5 607,740.5" stroke-width="1.4" />
<polyline points="603,740.5 609,745.5" stroke-width="1.4" />
<polyline points="609,732.5 615,737.5" stroke-width="1.4" />
<polyline points="612,737.5 618,742.5" stroke-width="1.4" />
<polyline points="614,742.5 620,747.5" stroke-width="1.4" />
<polyline points="605,728.5 611,733.5" stroke-width="1.4" />
<polyline points="573,781.5 579,786.5" stroke-width="1.4" />
<polyline points="577,786.5 583,791.5" stroke-width="1.4" />
<polyline points="581,791.5 587,796.5" stroke-width="1.4" />
<polyline points="570,787.5 576,792.5" stroke-width="1.4" />
<polyline points="586,785.5 592,790.5" stroke-width="1.4" />
<polyline points="583,781.5 589,786.5" stroke-width="1.4" />
<polyline points="565,791 571,778" stroke-width="1.4" stroke-dasharray="1.5 1.5"/>
<polyline points="598,800 604,784" stroke-width="1.4" stroke-dasharray="1.5 1.5"/>
<polyline points="546,845.3 568.4,849.4" stroke-width="1.3" stroke-dasharray="1.5 1.5"/>
<polyline points="503,854.5 526,856" stroke-width="1.8" />
<path d="M281.5,97.3 C285,100 287,104 286.1,108 C285.5,112 280,116 272.3,120.7 C269,124 270,130 271.4,136" stroke-width="2.6" fill="none" />
<path d="M260.4,136.4 Q272,137.5 281,130 L281.5,151.5 Z" stroke-width="1.5" fill="#000" />
<path d="M653.3,112.6 C650,118 646,122 647,127 C648,132 647,136 650,141 C655,148 660,152 660.5,158 C661,166 658,172 655,175.5" stroke-width="8" fill="none" stroke="#fff"/>
<path d="M653.3,112.6 C650,118 646,122 647,127 C648,132 647,136 650,141 C655,148 660,152 660.5,158 C661,166 658,172 655,175.5" stroke-width="2.2" fill="none" />
<path d="M644.3,177.1 C650,175 655,177 657,178 C660,178.5 662,178 663.4,178.2" stroke-width="2.2" fill="none" />
<path d="M832.1,155.3 L830.8,279 C830.5,290 829,299 826.2,299.6 C822,300 818,285 815,270 C812,258 809,248 805.6,248 C801,248 800,262 799.7,280 L799.1,401.5" stroke-width="2.2" fill="none" />
<path d="M374.2,456.4 L375.3,491.8 C375.5,495 376.5,496.5 377.5,496.2 C380,495 383,486 386.3,481.8 C388.5,480 390,484 390.2,488.5 L390.2,523.8" stroke-width="2.2" fill="none" />
<path d="M334.2,534.4 C338,538 341.5,544 341.5,549.1 C341.5,553 339,556 336.6,558.9 C332,565 328,570 326.8,575.3 C325.5,581 325.5,586 326,588.4 C327,593 330,596 331.7,598.2" stroke-width="8" fill="none" stroke="#fff"/>
<path d="M334.2,534.4 C338,538 341.5,544 341.5,549.1 C341.5,553 339,556 336.6,558.9 C332,565 328,570 326.8,575.3 C325.5,581 325.5,586 326,588.4 C327,593 330,596 331.7,598.2" stroke-width="2.2" fill="none" />
<path d="M323.5,599.9 C328,598 332,600 334,599.5 C338,599 341,598.5 343.2,599" stroke-width="2.2" fill="none" />
<path d="M197.5,570.4 L198.3,606.4 C198.8,609 199.8,610 200.7,609.7 C203,608 206,598 209.7,595 C212,594 213,598 213,603.1 L213.8,634.2" stroke-width="2.2" fill="none" />
<path d="M316.5,823.5 L385.2,760.3 L352.3,774.8 L413.3,717.1" stroke-width="2.2" fill="none" />
<path d="M892,790.6 L955,841 L961.5,845.3 L946.5,818.6 L1011.5,869.8" stroke-width="2.2" fill="none" />
<g transform="translate(249.8,73.8) scale(1.000,1.015)" stroke-width="3.2" stroke-linecap="round" stroke-linejoin="round"><path transform="translate(0,0)" d="M1.9,4 L6.6,1.4 M6.6,1.4 L6.9,18.1"/><path transform="translate(13.9,0)" d="M1.6,1.5 L10.6,1.5 C8.3,5.5 5.2,11.5 3.6,18.1"/><path transform="translate(27.8,0)" d="M8.4,1.4 L1.2,12.4 L11.4,12.4 M8.4,1.4 L8.6,18.1"/><path transform="translate(41.7,0)" d="M1.9,3.6 C3,2 4.6,1.3 6.3,1.3 C8.9,1.3 10.4,3 10.4,5.4 C10.4,8.2 8.2,10.8 1.9,17.9 L11.4,17.9"/></g>
<g transform="translate(629.6,82.9) scale(1.014,0.979)" stroke-width="2.8" stroke-linecap="round" stroke-linejoin="round"><path transform="translate(0,0)" d="M1.9,4 L6.6,1.4 M6.6,1.4 L6.9,18.1"/><path transform="translate(13.9,0)" d="M1.6,1.5 L10.6,1.5 C8.3,5.5 5.2,11.5 3.6,18.1"/><path transform="translate(27.8,0)" d="M8.4,1.4 L1.2,12.4 L11.4,12.4 M8.4,1.4 L8.6,18.1"/><path transform="translate(41.7,0)" d="M8.4,1.4 L1.2,12.4 L11.4,12.4 M8.4,1.4 L8.6,18.1"/></g>
<g transform="translate(803.6,129.3) scale(0.996,0.995)" stroke-width="2.8" stroke-linecap="round" stroke-linejoin="round"><path transform="translate(0,0)" d="M1.9,4 L6.6,1.4 M6.6,1.4 L6.9,18.1"/><path transform="translate(13.9,0)" d="M1.6,1.5 L10.6,1.5 C8.3,5.5 5.2,11.5 3.6,18.1"/><path transform="translate(27.8,0)" d="M10.2,1.5 L3.3,1.5 L2.7,8.3 C3.9,7.6 5.2,7.3 6.4,7.3 C9.1,7.4 10.7,9.5 10.7,12.6 C10.7,15.9 8.8,18 5.9,18 C4.4,18 3,17.7 1.8,17.2"/><path transform="translate(41.7,0)" d="M1.9,3.6 C3,2 4.6,1.3 6.3,1.3 C8.9,1.3 10.4,3 10.4,5.4 C10.4,8.2 8.2,10.8 1.9,17.9 L11.4,17.9"/></g>
<g transform="translate(344,430.5) scale(1.027,1.021)" stroke-width="2.8" stroke-linecap="round" stroke-linejoin="round"><path transform="translate(0,0)" d="M1.9,4 L6.6,1.4 M6.6,1.4 L6.9,18.1"/><path transform="translate(13.9,0)" d="M1.6,1.5 L10.6,1.5 C8.3,5.5 5.2,11.5 3.6,18.1"/><path transform="translate(27.8,0)" d="M5.9,1.4 C8.4,1.4 10,4.6 10,9.75 C10,14.9 8.4,18.1 5.9,18.1 C3.4,18.1 1.8,14.9 1.8,9.75 C1.8,4.6 3.4,1.4 5.9,1.4 Z"/><path transform="translate(41.7,0)" d="M1.9,3.6 C3,2 4.6,1.3 6.3,1.3 C8.9,1.3 10.4,3 10.4,5.4 C10.4,8.2 8.2,10.8 1.9,17.9 L11.4,17.9"/></g>
<g transform="translate(296.9,510.6) scale(1.002,0.969)" stroke-width="2.8" stroke-linecap="round" stroke-linejoin="round"><path transform="translate(0,0)" d="M1.9,4 L6.6,1.4 M6.6,1.4 L6.9,18.1"/><path transform="translate(13.9,0)" d="M1.6,1.5 L10.6,1.5 C8.3,5.5 5.2,11.5 3.6,18.1"/><path transform="translate(27.8,0)" d="M5.9,1.4 C8.4,1.4 10,4.6 10,9.75 C10,14.9 8.4,18.1 5.9,18.1 C3.4,18.1 1.8,14.9 1.8,9.75 C1.8,4.6 3.4,1.4 5.9,1.4 Z"/><path transform="translate(41.7,0)" d="M8.4,1.4 L1.2,12.4 L11.4,12.4 M8.4,1.4 L8.6,18.1"/></g>
<g transform="translate(164.3,544.2) scale(1.002,0.964)" stroke-width="2.8" stroke-linecap="round" stroke-linejoin="round"><path transform="translate(0,0)" d="M1.9,4 L6.6,1.4 M6.6,1.4 L6.9,18.1"/><path transform="translate(13.9,0)" d="M1.6,1.5 L10.6,1.5 C8.3,5.5 5.2,11.5 3.6,18.1"/><path transform="translate(27.8,0)" d="M5.9,1.4 C8.4,1.4 10,4.6 10,9.75 C10,14.9 8.4,18.1 5.9,18.1 C3.4,18.1 1.8,14.9 1.8,9.75 C1.8,4.6 3.4,1.4 5.9,1.4 Z"/><path transform="translate(41.7,0)" d="M5.9,1.4 C8.4,1.4 10,4.6 10,9.75 C10,14.9 8.4,18.1 5.9,18.1 C3.4,18.1 1.8,14.9 1.8,9.75 C1.8,4.6 3.4,1.4 5.9,1.4 Z"/></g>
<g transform="translate(277.5,831) scale(1.004,0.954)" stroke-width="2.8" stroke-linecap="round" stroke-linejoin="round"><path transform="translate(0,0)" d="M1.9,4 L6.6,1.4 M6.6,1.4 L6.9,18.1"/><path transform="translate(13.9,0)" d="M1.6,1.5 L10.6,1.5 C8.3,5.5 5.2,11.5 3.6,18.1"/><path transform="translate(27.8,0)" d="M8.4,1.4 L1.2,12.4 L11.4,12.4 M8.4,1.4 L8.6,18.1"/><path transform="translate(41.7,0)" d="M6,9.2 C3.6,9.2 2.4,7.6 2.4,5.3 C2.4,2.9 3.9,1.4 6,1.4 C8.1,1.4 9.6,2.9 9.6,5.3 C9.6,7.6 8.4,9.2 6,9.2 C3.3,9.2 1.5,11 1.5,13.6 C1.5,16.4 3.3,18.1 6,18.1 C8.7,18.1 10.5,16.4 10.5,13.6 C10.5,11 8.7,9.2 6,9.2 Z"/></g>
<g transform="translate(357.5,886.9) scale(1.004,0.990)" stroke-width="2.8" stroke-linecap="round" stroke-linejoin="round"><path transform="translate(0,0)" d="M1.9,4 L6.6,1.4 M6.6,1.4 L6.9,18.1"/><path transform="translate(13.9,0)" d="M1.6,1.5 L10.6,1.5 C8.3,5.5 5.2,11.5 3.6,18.1"/><path transform="translate(27.8,0)" d="M2,2.5 C3.4,1.6 4.7,1.3 6,1.3 C8.5,1.3 10.1,2.8 10.1,5 C10.1,7.5 8.3,8.9 5.2,9.1 C8.6,9.2 10.7,10.9 10.7,13.5 C10.7,16.3 8.6,18.1 5.8,18.1 C4.2,18.1 2.8,17.8 1.7,17.3"/><path transform="translate(41.7,0)" d="M1.9,3.6 C3,2 4.6,1.3 6.3,1.3 C8.9,1.3 10.4,3 10.4,5.4 C10.4,8.2 8.2,10.8 1.9,17.9 L11.4,17.9"/></g>
<g transform="translate(998.3,877.5) scale(0.995,0.979)" stroke-width="2.8" stroke-linecap="round" stroke-linejoin="round"><path transform="translate(0,0)" d="M1.9,4 L6.6,1.4 M6.6,1.4 L6.9,18.1"/><path transform="translate(13.9,0)" d="M1.6,1.5 L10.6,1.5 C8.3,5.5 5.2,11.5 3.6,18.1"/><path transform="translate(27.8,0)" d="M5.9,1.4 C8.4,1.4 10,4.6 10,9.75 C10,14.9 8.4,18.1 5.9,18.1 C3.4,18.1 1.8,14.9 1.8,9.75 C1.8,4.6 3.4,1.4 5.9,1.4 Z"/><path transform="translate(41.7,0)" d="M10.6,1.6 C6,3 2.2,7.5 2.1,12.5 C2,16 3.8,18.1 6.4,18.1 C9,18.1 10.7,16.1 10.7,13.4 C10.7,10.7 9,9 6.5,9 C4.3,9 2.7,10.3 2.1,12.2"/></g>
</g>
</svg>
</body></html>
